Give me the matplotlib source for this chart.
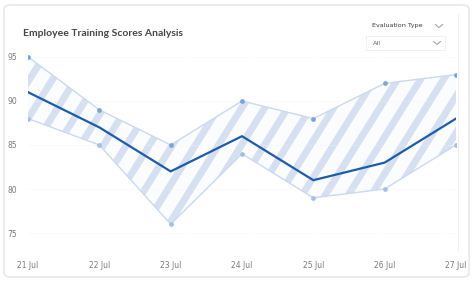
import numpy as np
import matplotlib.pyplot as plt
from matplotlib.patches import FancyBboxPatch
from matplotlib.lines import Line2D

dates = ['21 Jul', '22 Jul', '23 Jul', '24 Jul', '25 Jul', '26 Jul', '27 Jul']
upper = [95, 89, 85, 90, 88, 92, 93]
lower = [88, 85, 76, 84, 79, 80, 85]
mean_score = [91, 87, 82, 86, 81, 83, 88]
yticks = [75, 80, 85, 90, 95]

fig = plt.figure(figsize=(4.74, 2.82), dpi=100)
fig.patch.set_facecolor('white')

# card background
card = FancyBboxPatch((4 / 474, 5 / 282), 465 / 474, 272 / 282,
                      boxstyle='round,pad=0,rounding_size=0.015',
                      transform=fig.transFigure, facecolor='white',
                      edgecolor='#e4e4e4', linewidth=1.0, zorder=-5)
fig.patches.append(card)

ax = fig.add_axes([28 / 474, 1 - 250 / 282, 428 / 474, 205 / 282])
ax.set_zorder(2)
ax.set_facecolor('none')
x = list(range(len(dates)))
ax.set_xlim(0, 6)
ax.set_ylim(73.07, 96.36)

band = ax.fill_between(x, lower, upper, facecolor='#fbfcfe', linewidth=0, zorder=1)

# diagonal stripes, clipped to the band
band_path = band.get_paths()[0]
W, H = 428, 205
ang = np.deg2rad(58)
run = H / np.tan(ang)
to_data = ax.transAxes + ax.transData.inverted()
for c in np.arange(-run, W + 10, 23):
    p = to_data.transform([[c / W, 0], [(c + run) / W, 1]])
    ln, = ax.plot(p[:, 0], p[:, 1], color='#d6e0f0', linewidth=5.0,
                  solid_capstyle='butt', zorder=1.5)
    ln.set_clip_path(band_path, ax.transData)

ax.plot(x, upper, color='#cbd9ee', linewidth=1.0, zorder=2)
ax.plot(x, lower, color='#cbd9ee', linewidth=1.0, zorder=2)
ax.scatter(x, upper, s=12, color='#7fa3d3', zorder=3, linewidths=0)
ax.scatter(x, lower, s=12, color='#a8c0e0', zorder=3, linewidths=0)
ax.plot(x, mean_score, color='#1c5ca9', linewidth=1.6, zorder=4)

ax.set_xticks(x)
ax.set_xticklabels(dates)
ax.set_yticks(yticks)
ax.tick_params(axis='both', length=0, labelsize=5.5, colors='#7a7a7a')
ax.tick_params(axis='x', pad=8)
ax.tick_params(axis='y', pad=8)
for s in ax.spines.values():
    s.set_visible(False)
ax.grid(axis='y', color='#f2f2f2', linewidth=0.6, linestyle=':')

# faint divider on the right
fig.add_artist(Line2D([458 / 474, 458 / 474], [1 - 250 / 282, 1 - 14 / 282],
                      color='#efefef', linewidth=0.8))

fig.text(23 / 474, 1 - 33 / 282, 'Employee Training Scores Analysis',
         fontsize=7.5, fontweight='bold', color='#454545',
         family='Lato', va='center', ha='left')

# slicer
fig.text(372 / 474, 1 - 26 / 282, 'Evaluation Type', fontsize=4.6,
         color='#3a3a3a', va='center', ha='left')
fig.text(373 / 474, 1 - 43 / 282, 'All', fontsize=4.6,
         color='#666666', va='center', ha='left')
fig.patches.append(plt.Rectangle((366 / 474, 1 - 50 / 282), 79 / 474, 14 / 282,
                                 transform=fig.transFigure, facecolor='none',
                                 edgecolor='#ececec', linewidth=0.6))


def chevron(cx, cy, color):
    fig.add_artist(Line2D([(cx - 3.5) / 474, cx / 474, (cx + 3.5) / 474],
                          [1 - (cy - 1.5) / 282, 1 - (cy + 1.5) / 282, 1 - (cy - 1.5) / 282],
                          color=color, linewidth=0.7))


chevron(439, 26, '#9a9a9a')
chevron(437, 43, '#9a9a9a')

fig.savefig('out.png', dpi=100)
